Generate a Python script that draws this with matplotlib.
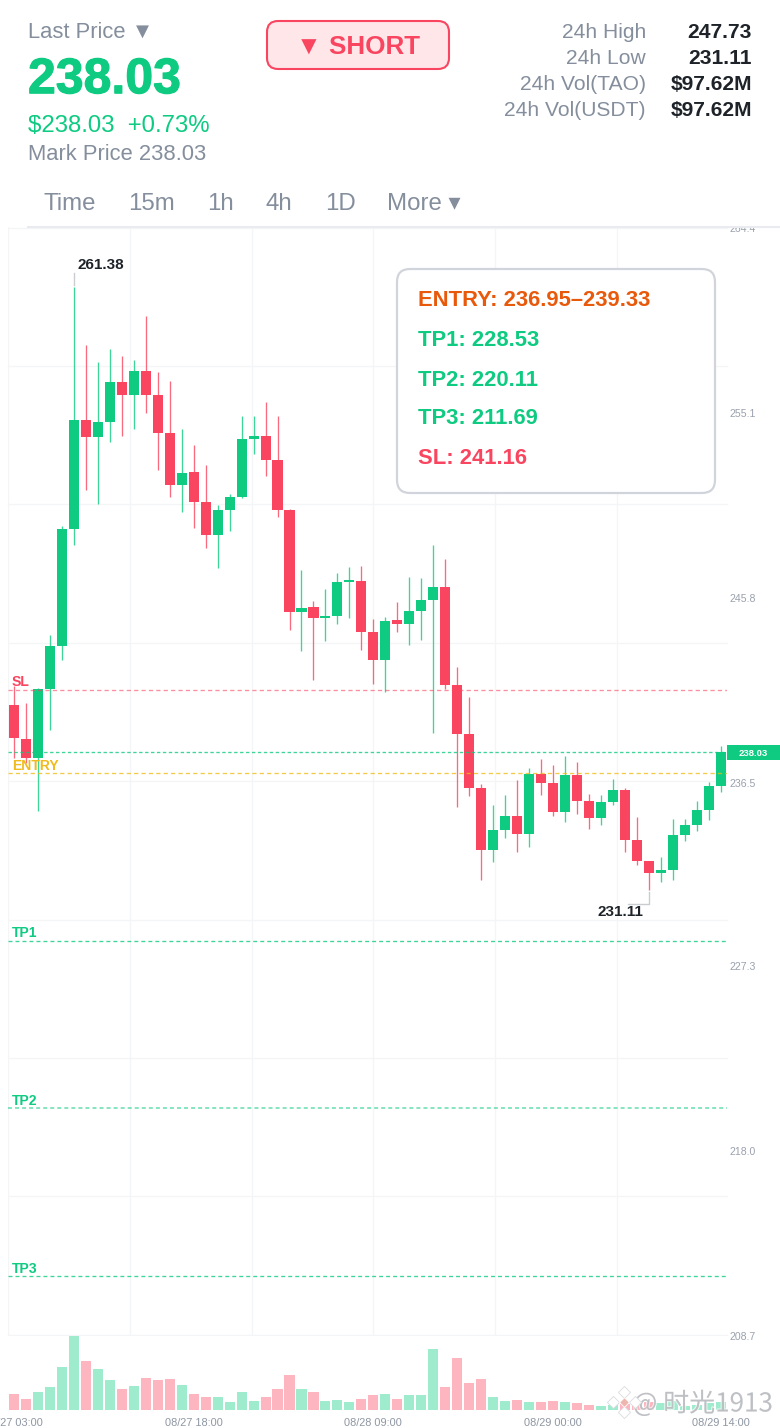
#!/usr/bin/env python
import matplotlib
matplotlib.use('Agg')
import matplotlib.pyplot as plt
import matplotlib.patheffects as pe
from matplotlib.patches import FancyBboxPatch, Rectangle
from matplotlib.transforms import ScaledTranslation
import numpy as np

plt.rcParams['font.family'] = ['Liberation Sans', 'DejaVu Sans', 'Noto Sans CJK SC']

GREEN = '#0ECB81'
RED = '#F9455F'
GRAY = '#848E9C'
DARK = '#1E2329'
GRID = '#F4F5F7'

# hourly candles
opens = [240.41, 238.68, 237.73, 241.21, 243.37, 249.24, 254.73, 253.86, 254.59, 256.60,
         255.95, 257.19, 255.95, 254.04, 251.43, 252.10, 250.59, 248.95, 250.21, 250.86,
         253.77, 253.92, 252.72, 250.17, 245.04, 245.30, 244.74, 244.84, 246.55, 246.64,
         244.08, 242.65, 244.64, 244.46, 245.10, 245.68, 246.32, 241.38, 238.91, 236.19,
         233.12, 234.08, 234.79, 233.92, 236.94, 236.47, 234.99, 236.87, 235.55, 234.69,
         235.50, 236.12, 233.61, 232.55, 231.93, 232.07, 233.87, 234.34, 235.13, 236.30]
closes = [238.73, 237.73, 241.21, 243.37, 249.24, 254.73, 253.86, 254.59, 256.60, 255.95,
          257.19, 255.95, 254.04, 251.43, 252.06, 250.59, 248.95, 250.21, 250.86, 253.77,
          253.92, 252.72, 250.17, 245.04, 245.28, 244.76, 244.84, 246.55, 246.64, 244.08,
          242.65, 244.63, 244.46, 245.10, 245.68, 246.32, 241.38, 238.91, 236.19, 233.12,
          234.08, 234.79, 233.92, 236.94, 236.47, 234.99, 236.87, 235.55, 234.69, 235.50,
          236.12, 233.61, 232.55, 231.93, 232.07, 233.87, 234.34, 235.13, 236.30, 238.03]
highs = [241.33, 240.49, 241.25, 243.92, 249.40, 261.38, 258.48, 257.61, 258.30, 257.91,
         257.74, 259.95, 257.14, 256.67, 254.26, 253.46, 252.47, 250.44, 250.99, 254.93,
         254.93, 255.63, 254.89, 250.26, 247.19, 245.63, 246.24, 247.02, 247.33, 247.39,
         244.71, 244.81, 245.58, 246.82, 246.79, 248.41, 247.74, 242.32, 240.77, 236.39,
         235.38, 235.88, 236.60, 237.23, 237.69, 237.38, 237.84, 237.53, 235.92, 235.88,
         236.67, 236.22, 234.76, 232.55, 232.75, 234.63, 234.66, 235.55, 236.50, 238.31]
lows = [237.73, 237.49, 235.05, 239.12, 242.63, 248.41, 251.18, 250.51, 253.61, 253.89,
        254.28, 255.06, 252.22, 250.82, 250.11, 249.27, 248.26, 247.26, 249.12, 250.79,
        253.02, 251.88, 249.82, 244.14, 243.09, 241.66, 243.59, 244.48, 244.74, 243.14,
        241.43, 241.02, 244.04, 243.42, 243.67, 238.98, 241.20, 235.27, 235.83, 231.58,
        232.48, 233.71, 233.00, 233.24, 235.87, 234.83, 234.51, 234.93, 234.16, 234.34,
        235.35, 233.00, 232.33, 231.11, 231.51, 231.58, 233.57, 234.04, 234.58, 236.00]
volumes = [48, 34, 55, 68, 129, 222, 148, 124, 90, 63,
           72, 96, 90, 93, 75, 48, 39, 38, 23, 53,
           27, 38, 62, 104, 63, 55, 27, 29, 25, 33,
           45, 47, 34, 44, 44, 183, 68, 155, 82, 93,
           40, 26, 30, 24, 25, 26, 24, 21, 14, 12,
           15, 18, 23, 25, 20, 27, 12, 15, 20, 24]

price_ticks = [264.4, 255.1, 245.8, 236.5, 227.3, 218.0, 208.7]
price_grid = [264.38, 257.44, 250.48, 243.52, 236.56, 229.6, 222.64, 215.68, 208.7]
time_grid = [-0.5, 9.67, 19.83, 30.0, 40.17, 50.33]
time_ticks = [0, 15, 30, 45, 59]
time_labels = ['08/27 03:00', '08/27 18:00', '08/28 09:00', '08/29 00:00', '08/29 14:00']

last_price = 238.03
sl_level = 241.16
entry_level = 236.95
tp_names = ['TP1', 'TP2', 'TP3']
tp_levels = [228.53, 220.11, 211.69]

stat_names = ['24h High', '24h Low', '24h Vol(TAO)', '24h Vol(USDT)']
stat_values = ['247.73', '231.11', '$97.62M', '$97.62M']
tab_names = ['Time', '15m', '1h', '4h', '1D', 'More ▾']


def px(n):
    # font size in picture pixels to points
    return n * 0.72


W, H = 780.0, 1428.0
fig = plt.figure(figsize=(7.8, 14.28), dpi=100, facecolor='white')
ax = fig.add_axes([7.9 / W, 1 - 1335.3 / H, 719 / W, 1108 / H])
vol_ax = fig.add_axes([7.9 / W, 1 - 1410 / H, 719 / W, 74 / H])

idx = np.arange(len(opens))
o = np.array(opens)
c = np.array(closes)
up = c >= o
colors = [GREEN if u else RED for u in up]

ax.vlines(idx, lows, highs, colors=colors, linewidth=0.95, alpha=0.8, zorder=3)
bottoms = np.minimum(o, c)
heights = np.maximum(np.abs(c - o), 0.1)
ax.bar(idx, heights, bottom=bottoms, width=0.84, color=colors, linewidth=0, zorder=4)

for p in price_grid:
    ax.axhline(p, color=GRID, linewidth=0.9, zorder=1, clip_on=False)
for t in time_grid:
    ax.axvline(t, color=GRID, linewidth=0.9, zorder=1)

# level lines go over the candles
ax.axhline(sl_level, color=RED, alpha=0.6, linewidth=0.95, linestyle=(0, (3.2, 2.4)), zorder=5)
ax.axhline(entry_level, color='#F0B90B', alpha=0.75, linewidth=0.95, linestyle=(0, (3.2, 2.4)), zorder=5)
ax.axhline(last_price, color=GREEN, alpha=0.8, linewidth=0.95, linestyle=(0, (2.6, 1.9)), zorder=5)
ax.axhline(tp_levels[0], color=GREEN, alpha=0.8, linewidth=0.95, linestyle=(0, (3.0, 2.3)), zorder=5)
ax.axhline(tp_levels[1], color=GREEN, alpha=0.55, linewidth=1.3, linestyle=(0, (2.2, 1.7)), zorder=5)
ax.axhline(tp_levels[2], color=GREEN, alpha=0.8, linewidth=0.95, linestyle=(0, (3.0, 2.3)), zorder=5)

ax.set_xlim(-0.5, 59.5)
ax.set_ylim(208.7, 264.38)
ax.set_xticks([])
ax.yaxis.tick_right()
ax.set_yticks(price_ticks)
ax.set_yticklabels(['%.1f' % p for p in price_ticks])
ax.tick_params(axis='y', length=0, pad=2.2, labelsize=px(10.5), labelcolor='#9AA1AD')
# labels sit a pixel under their price
nudge = ScaledTranslation(0, -1.0 / fig.dpi, fig.dpi_scale_trans)
for lbl in ax.get_yticklabels():
    lbl.set_transform(lbl.get_transform() + nudge)
for s in ax.spines.values():
    s.set_visible(False)

vol_colors = ['#9FEBCD' if u else '#FDB5C0' for u in up]
vol_ax.bar(idx, volumes, width=0.84, color=vol_colors, linewidth=0)
vol_ax.set_xlim(-0.5, 59.5)
vol_ax.set_ylim(0, 222)
vol_ax.set_yticks([])
vol_ax.set_xticks(time_ticks)
vol_ax.set_xticklabels(time_labels)
vol_ax.tick_params(axis='x', length=0, pad=5.8, labelsize=px(11), labelcolor='#8F97A3')
for s in vol_ax.spines.values():
    s.set_visible(False)

# everything else is laid out in picture pixels
top = fig.add_axes([0, 0, 1, 1], facecolor='none')
top.set_xlim(0, W)
top.set_ylim(H, 0)
top.axis('off')
top.add_patch(Rectangle((0, 0), W, 227, facecolor='white', edgecolor='none', zorder=1))
top.plot([28, W], [227, 227], color='#E9EBF0', linewidth=1.5, zorder=2)


def label(x, y, s, size, color, weight='normal', ha='left', **kw):
    return top.text(x, y - 0.8, s, fontsize=px(size), color=color, fontweight=weight,
                    ha=ha, va='center_baseline', zorder=6, **kw)


label(28, 31, 'Last Price ▼', 22, GRAY)
big = label(28, 76, '238.03', 50, GREEN, 'bold')
big.set_path_effects([pe.withStroke(linewidth=0.8, foreground=GREEN)])
label(28, 124, '$238.03  +0.73%', 24, GREEN)
label(28, 153, 'Mark Price 238.03', 22, GRAY)

top.add_patch(FancyBboxPatch((267, 21), 182, 48, boxstyle='round,pad=0,rounding_size=11',
                             facecolor='#FEE6E9', edgecolor=RED, linewidth=1.5, zorder=3))
label(358, 45, '▼ SHORT', 26, RED, 'bold', ha='center')

for i, (n, v) in enumerate(zip(stat_names, stat_values)):
    y = 31.5 + i * 26
    label(646, y, n, 21, GRAY, ha='right')
    label(752, y, v, 21, DARK, 'bold', ha='right')

for x, n in zip([44, 128, 207, 266, 325, 387], tab_names):
    label(x, 202.5, n, 24, GRAY)

# level captions
label(12, 681.5, 'SL', 14, RED, 'bold')
label(12, 765.5, 'ENTRY', 14, '#EFBB1E', 'bold')
for name, y in zip(tp_names, [932.5, 1100.5, 1268.5]):
    label(12, y, name, 14, GREEN, 'bold')

# high / low callouts
top.plot([74, 74], [273, 285], color='#C9CCD1', linewidth=1.0, zorder=6)
label(78, 264.5, '261.38', 15.3, DARK, 'bold')
top.plot([648.5, 648.5, 628], [892, 904, 904], color='#C9CCD1', linewidth=1.0, zorder=6)
label(598, 911.5, '231.11', 15.3, DARK, 'bold')

# last price tag
top.add_patch(Rectangle((727, 744.5), 53, 15.5, facecolor=GREEN, edgecolor='none', zorder=6))
label(753, 753, '238.03', 9.5, 'white', 'bold', ha='center')

# signal box
top.add_patch(FancyBboxPatch((397, 269), 318, 224, boxstyle='round,pad=0,rounding_size=13',
                             facecolor='white', edgecolor='#D1D5DB', linewidth=1.6, zorder=5))
rows = [('ENTRY: 236.95–239.33', '#E8590C'), ('TP1: 228.53', GREEN), ('TP2: 220.11', GREEN),
        ('TP3: 211.69', GREEN), ('SL: 241.16', RED)]
for (s, col), y in zip(rows, [299, 339, 379, 417, 457]):
    label(418, y, s, 22, col, 'bold')

# watermark
t = top.text(773, 1401, '@ 时光1913', fontsize=px(26), color='#B2B5BA', alpha=0.8,
             ha='right', va='center_baseline', zorder=7,
             family=['Noto Sans CJK SC', 'DejaVu Sans'])
t.set_path_effects([pe.withStroke(linewidth=1.6, foreground='white', alpha=0.7)])
top.scatter([624, 613, 635, 624], [1392, 1402, 1402, 1412], marker='D', s=38,
            facecolor='white', edgecolor='#DADCE0', linewidth=0.6, zorder=7)
top.scatter([624], [1402], marker='D', s=24, facecolor='#EDB5AE', edgecolor='white', linewidth=0.6, zorder=7)

fig.savefig('out.png', dpi=100)
